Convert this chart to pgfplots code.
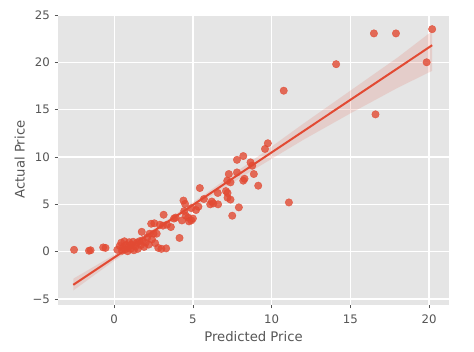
\documentclass[border=0pt]{standalone}
\usepackage{pgfplots}
\pgfplotsset{compat=1.18}
\usepackage{fontspec}
\setmainfont{DejaVu Sans}
\definecolor{bg}{HTML}{E5E5E5}
\definecolor{pt}{HTML}{E24A33}
\definecolor{txt}{HTML}{555555}
\begin{document}
\begin{tikzpicture}[x=1pt,y=1pt]
\path[use as bounding box] (0,0) rectangle (355.5,263.25);
\begin{axis}[
 at={(43.5pt,34.5pt)}, anchor=south west,
 scale only axis, width=293.25pt, height=218.25pt,
 xmin=-3.57, xmax=21.27, ymin=-5.63, ymax=25.1,
 axis background/.style={fill=bg},
 axis line style={draw=none},
 grid=major, grid style={white, line width=0.9pt},
 xtick={0,5,10,15,20}, xticklabels={0,5,10,15,20},
 ytick={-5,0,5,10,15,20,25},
 yticklabels={−5,0,5,10,15,20,25},
 tick align=outside, tick pos=left, major tick length=2.6pt,
 tick style={txt, line width=0.6pt},
 ticklabel style={font=\fontsize{8.8}{10}\selectfont, text=txt},
 xticklabel style={yshift=-1pt},
 xlabel={Predicted Price}, ylabel={Actual Price},
 label style={font=\fontsize{9.9}{12}\selectfont, text=txt},
 xlabel style={yshift=1pt},
 ylabel style={yshift=-1pt},
]
% confidence band
\addplot[fill=pt, fill opacity=0.15, draw=none] coordinates {
(-2.6,-2.85) (0,-0.33) (3,2.95) (6,6.35) (9,9.9) (12,13.5) (15,17.0) (18,20.5) (20.2,23.3)
(20.2,19.1) (18,17.3) (15,14.6) (12,11.8) (9,8.8) (6,5.7) (3,2.45) (0,-0.95) (-2.6,-4.1)
} -- cycle;
% scatter
\addplot[only marks, mark=*, mark size=2.8pt,
 mark options={fill=pt, fill opacity=0.8, draw=pt, draw opacity=0.8, line width=0.3pt}]
coordinates {
(-2.55,0.2) (-1.6,0.1) (-1.5,0.15) (-0.7,0.45) (-0.55,0.4)
(0.2,0.2) (0.35,0.6) (0.45,0.95) (0.5,0.1) (0.55,0.4) (0.65,1.1) (0.7,0.25) (0.75,0.7)
(0.85,0.05) (0.9,0.45) (0.95,1.0) (1.05,0.3) (1.1,0.75) (1.2,1.05) (1.25,0.15) (1.35,0.55)
(1.45,0.95) (1.5,0.3) (1.6,1.1) (1.7,0.7) (1.75,2.1) (1.8,1.2) (1.9,0.5) (2.0,0.95)
(2.1,1.5) (2.2,0.75) (2.25,1.9) (2.4,1.3) (2.5,1.9) (2.6,0.9) (2.7,1.9)
(2.8,0.4) (3.0,0.3) (3.3,0.35)
(2.35,2.95) (2.55,3.0) (2.9,2.85) (3.1,2.75) (3.35,2.85) (3.14,3.9) (3.6,2.6) (3.8,3.5)
(3.9,3.6) (4.15,1.45) (4.3,3.3) (4.4,5.4) (4.5,5.05) (4.45,4.3) (4.55,3.8) (4.7,3.6)
(4.75,3.2) (4.9,3.3) (5.0,3.5) (4.9,4.6) (5.2,4.4) (5.35,4.75) (5.44,6.72) (5.7,5.56)
(6.1,5.0) (6.2,5.3) (6.3,5.1) (6.6,5.0) (6.58,6.2) (7.1,6.4) (7.2,6.2) (7.2,5.7)
(7.39,5.5) (7.18,7.5) (7.39,7.32) (7.28,8.2) (7.8,8.37) (7.5,3.8) (7.92,4.68) (8.2,7.5)
(8.28,7.7) (7.8,9.7) (8.2,10.1) (8.66,9.43) (8.77,9.08) (8.87,8.2) (9.15,6.97)
(9.58,10.85) (9.76,11.45) (11.1,5.2) (10.77,17.0) (14.1,19.8) (16.5,23.05) (16.6,14.5)
(17.9,23.05) (19.85,20.0) (20.2,23.5)
};
% regression line
\addplot[pt, line width=1.5pt] coordinates {(-2.6,-3.5) (20.2,21.8)};
\end{axis}
\end{tikzpicture}
\end{document}
